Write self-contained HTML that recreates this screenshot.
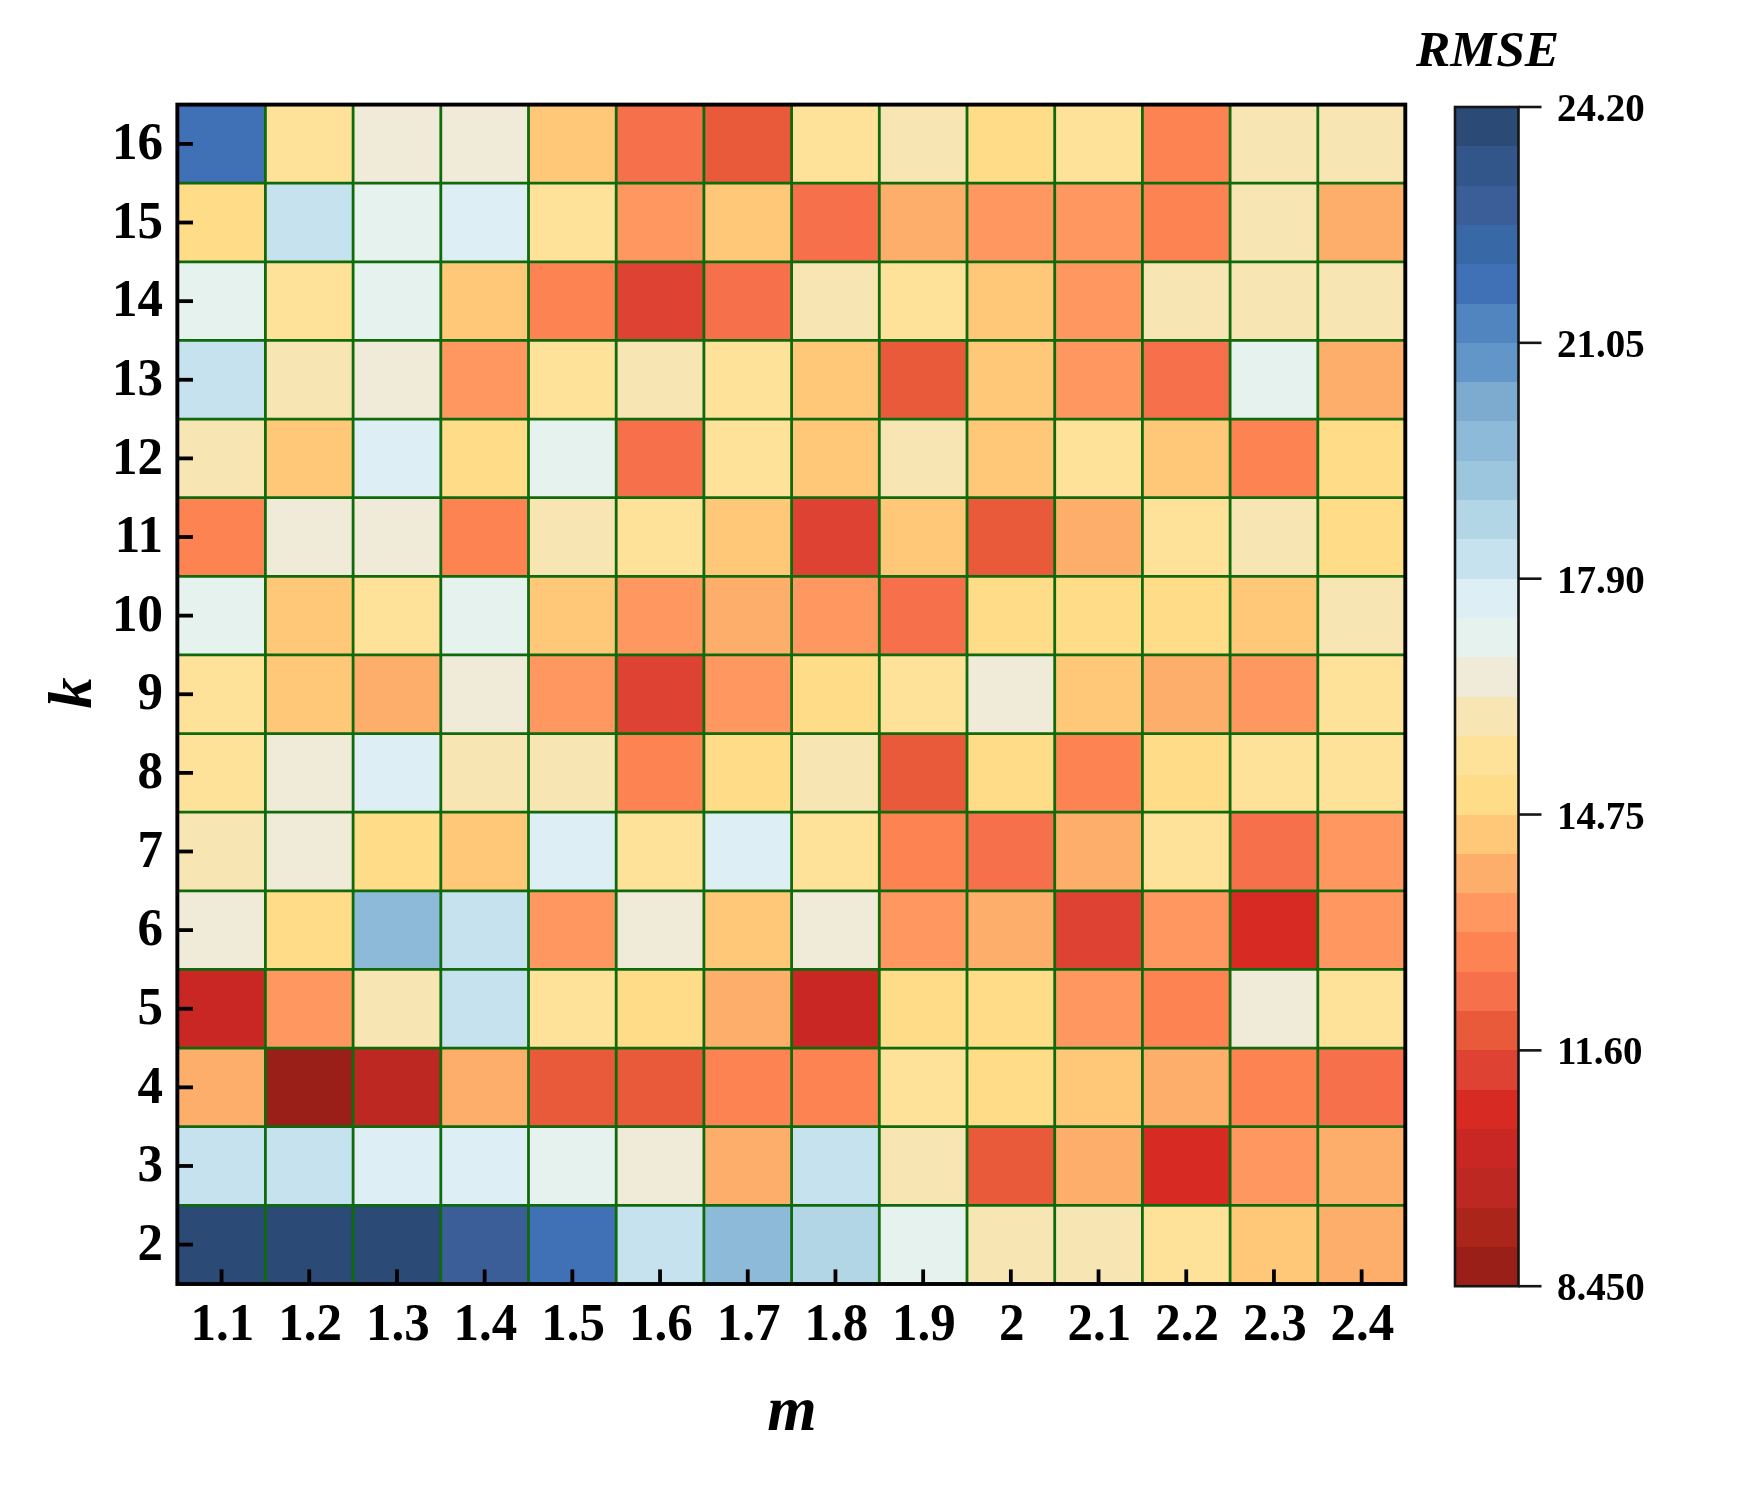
<!DOCTYPE html>
<html><head><meta charset="utf-8"><title>RMSE heatmap</title>
<style>html,body{margin:0;padding:0;background:#fff}body{width:1741px;height:1498px;overflow:hidden}</style></head>
<body>
<svg width="1741" height="1498" viewBox="0 0 1741 1498" style="display:block;filter:blur(0.45px)">
<rect width="1741" height="1498" fill="#fff"/>
<g shape-rendering="crispEdges">
<rect x="177.70" y="104.60" width="88.20" height="79.12" fill="#4070B5"/>
<rect x="265.40" y="104.60" width="88.20" height="79.12" fill="#FEE29A"/>
<rect x="353.10" y="104.60" width="88.20" height="79.12" fill="#F0EAD8"/>
<rect x="440.80" y="104.60" width="88.20" height="79.12" fill="#F0EAD8"/>
<rect x="528.50" y="104.60" width="88.20" height="79.12" fill="#FEC878"/>
<rect x="616.20" y="104.60" width="88.20" height="79.12" fill="#F5704B"/>
<rect x="703.90" y="104.60" width="88.20" height="79.12" fill="#E85A3A"/>
<rect x="791.60" y="104.60" width="88.20" height="79.12" fill="#FEE29A"/>
<rect x="879.30" y="104.60" width="88.20" height="79.12" fill="#F7E6B4"/>
<rect x="967.00" y="104.60" width="88.20" height="79.12" fill="#FEDC88"/>
<rect x="1054.70" y="104.60" width="88.20" height="79.12" fill="#FEE29A"/>
<rect x="1142.40" y="104.60" width="88.20" height="79.12" fill="#FD8352"/>
<rect x="1230.10" y="104.60" width="88.20" height="79.12" fill="#F7E6B4"/>
<rect x="1317.80" y="104.60" width="88.20" height="79.12" fill="#F7E6B4"/>
<rect x="177.70" y="183.22" width="88.20" height="79.12" fill="#FEDC88"/>
<rect x="265.40" y="183.22" width="88.20" height="79.12" fill="#C5E2EE"/>
<rect x="353.10" y="183.22" width="88.20" height="79.12" fill="#E6F2EE"/>
<rect x="440.80" y="183.22" width="88.20" height="79.12" fill="#DDEEF5"/>
<rect x="528.50" y="183.22" width="88.20" height="79.12" fill="#FEE29A"/>
<rect x="616.20" y="183.22" width="88.20" height="79.12" fill="#FE9860"/>
<rect x="703.90" y="183.22" width="88.20" height="79.12" fill="#FEC878"/>
<rect x="791.60" y="183.22" width="88.20" height="79.12" fill="#F5704B"/>
<rect x="879.30" y="183.22" width="88.20" height="79.12" fill="#FDAE6A"/>
<rect x="967.00" y="183.22" width="88.20" height="79.12" fill="#FE9860"/>
<rect x="1054.70" y="183.22" width="88.20" height="79.12" fill="#FE9860"/>
<rect x="1142.40" y="183.22" width="88.20" height="79.12" fill="#FD8352"/>
<rect x="1230.10" y="183.22" width="88.20" height="79.12" fill="#F7E6B4"/>
<rect x="1317.80" y="183.22" width="88.20" height="79.12" fill="#FDAE6A"/>
<rect x="177.70" y="261.84" width="88.20" height="79.12" fill="#E6F2EE"/>
<rect x="265.40" y="261.84" width="88.20" height="79.12" fill="#FEE29A"/>
<rect x="353.10" y="261.84" width="88.20" height="79.12" fill="#E6F2EE"/>
<rect x="440.80" y="261.84" width="88.20" height="79.12" fill="#FEC878"/>
<rect x="528.50" y="261.84" width="88.20" height="79.12" fill="#FD8352"/>
<rect x="616.20" y="261.84" width="88.20" height="79.12" fill="#DE4232"/>
<rect x="703.90" y="261.84" width="88.20" height="79.12" fill="#F5704B"/>
<rect x="791.60" y="261.84" width="88.20" height="79.12" fill="#F7E6B4"/>
<rect x="879.30" y="261.84" width="88.20" height="79.12" fill="#FEE29A"/>
<rect x="967.00" y="261.84" width="88.20" height="79.12" fill="#FEC878"/>
<rect x="1054.70" y="261.84" width="88.20" height="79.12" fill="#FE9860"/>
<rect x="1142.40" y="261.84" width="88.20" height="79.12" fill="#F7E6B4"/>
<rect x="1230.10" y="261.84" width="88.20" height="79.12" fill="#F7E6B4"/>
<rect x="1317.80" y="261.84" width="88.20" height="79.12" fill="#F7E6B4"/>
<rect x="177.70" y="340.46" width="88.20" height="79.12" fill="#C5E2EE"/>
<rect x="265.40" y="340.46" width="88.20" height="79.12" fill="#F7E6B4"/>
<rect x="353.10" y="340.46" width="88.20" height="79.12" fill="#F0EAD8"/>
<rect x="440.80" y="340.46" width="88.20" height="79.12" fill="#FE9860"/>
<rect x="528.50" y="340.46" width="88.20" height="79.12" fill="#FEE29A"/>
<rect x="616.20" y="340.46" width="88.20" height="79.12" fill="#F7E6B4"/>
<rect x="703.90" y="340.46" width="88.20" height="79.12" fill="#FEE29A"/>
<rect x="791.60" y="340.46" width="88.20" height="79.12" fill="#FEC878"/>
<rect x="879.30" y="340.46" width="88.20" height="79.12" fill="#E85A3A"/>
<rect x="967.00" y="340.46" width="88.20" height="79.12" fill="#FEC878"/>
<rect x="1054.70" y="340.46" width="88.20" height="79.12" fill="#FE9860"/>
<rect x="1142.40" y="340.46" width="88.20" height="79.12" fill="#F5704B"/>
<rect x="1230.10" y="340.46" width="88.20" height="79.12" fill="#E6F2EE"/>
<rect x="1317.80" y="340.46" width="88.20" height="79.12" fill="#FDAE6A"/>
<rect x="177.70" y="419.08" width="88.20" height="79.12" fill="#F7E6B4"/>
<rect x="265.40" y="419.08" width="88.20" height="79.12" fill="#FEC878"/>
<rect x="353.10" y="419.08" width="88.20" height="79.12" fill="#DDEEF5"/>
<rect x="440.80" y="419.08" width="88.20" height="79.12" fill="#FEDC88"/>
<rect x="528.50" y="419.08" width="88.20" height="79.12" fill="#E6F2EE"/>
<rect x="616.20" y="419.08" width="88.20" height="79.12" fill="#F5704B"/>
<rect x="703.90" y="419.08" width="88.20" height="79.12" fill="#FEE29A"/>
<rect x="791.60" y="419.08" width="88.20" height="79.12" fill="#FEC878"/>
<rect x="879.30" y="419.08" width="88.20" height="79.12" fill="#F7E6B4"/>
<rect x="967.00" y="419.08" width="88.20" height="79.12" fill="#FEC878"/>
<rect x="1054.70" y="419.08" width="88.20" height="79.12" fill="#FEE29A"/>
<rect x="1142.40" y="419.08" width="88.20" height="79.12" fill="#FEC878"/>
<rect x="1230.10" y="419.08" width="88.20" height="79.12" fill="#FD8352"/>
<rect x="1317.80" y="419.08" width="88.20" height="79.12" fill="#FEDC88"/>
<rect x="177.70" y="497.70" width="88.20" height="79.12" fill="#FD8352"/>
<rect x="265.40" y="497.70" width="88.20" height="79.12" fill="#F0EAD8"/>
<rect x="353.10" y="497.70" width="88.20" height="79.12" fill="#F0EAD8"/>
<rect x="440.80" y="497.70" width="88.20" height="79.12" fill="#FD8352"/>
<rect x="528.50" y="497.70" width="88.20" height="79.12" fill="#F7E6B4"/>
<rect x="616.20" y="497.70" width="88.20" height="79.12" fill="#FEE29A"/>
<rect x="703.90" y="497.70" width="88.20" height="79.12" fill="#FEC878"/>
<rect x="791.60" y="497.70" width="88.20" height="79.12" fill="#DE4232"/>
<rect x="879.30" y="497.70" width="88.20" height="79.12" fill="#FEC878"/>
<rect x="967.00" y="497.70" width="88.20" height="79.12" fill="#E85A3A"/>
<rect x="1054.70" y="497.70" width="88.20" height="79.12" fill="#FDAE6A"/>
<rect x="1142.40" y="497.70" width="88.20" height="79.12" fill="#FEE29A"/>
<rect x="1230.10" y="497.70" width="88.20" height="79.12" fill="#F7E6B4"/>
<rect x="1317.80" y="497.70" width="88.20" height="79.12" fill="#FEDC88"/>
<rect x="177.70" y="576.32" width="88.20" height="79.12" fill="#E6F2EE"/>
<rect x="265.40" y="576.32" width="88.20" height="79.12" fill="#FEC878"/>
<rect x="353.10" y="576.32" width="88.20" height="79.12" fill="#FEE29A"/>
<rect x="440.80" y="576.32" width="88.20" height="79.12" fill="#E6F2EE"/>
<rect x="528.50" y="576.32" width="88.20" height="79.12" fill="#FEC878"/>
<rect x="616.20" y="576.32" width="88.20" height="79.12" fill="#FE9860"/>
<rect x="703.90" y="576.32" width="88.20" height="79.12" fill="#FDAE6A"/>
<rect x="791.60" y="576.32" width="88.20" height="79.12" fill="#FE9860"/>
<rect x="879.30" y="576.32" width="88.20" height="79.12" fill="#F5704B"/>
<rect x="967.00" y="576.32" width="88.20" height="79.12" fill="#FEDC88"/>
<rect x="1054.70" y="576.32" width="88.20" height="79.12" fill="#FEDC88"/>
<rect x="1142.40" y="576.32" width="88.20" height="79.12" fill="#FEDC88"/>
<rect x="1230.10" y="576.32" width="88.20" height="79.12" fill="#FEC878"/>
<rect x="1317.80" y="576.32" width="88.20" height="79.12" fill="#F7E6B4"/>
<rect x="177.70" y="654.94" width="88.20" height="79.12" fill="#FEE29A"/>
<rect x="265.40" y="654.94" width="88.20" height="79.12" fill="#FEC878"/>
<rect x="353.10" y="654.94" width="88.20" height="79.12" fill="#FDAE6A"/>
<rect x="440.80" y="654.94" width="88.20" height="79.12" fill="#F0EAD8"/>
<rect x="528.50" y="654.94" width="88.20" height="79.12" fill="#FE9860"/>
<rect x="616.20" y="654.94" width="88.20" height="79.12" fill="#DE4232"/>
<rect x="703.90" y="654.94" width="88.20" height="79.12" fill="#FE9860"/>
<rect x="791.60" y="654.94" width="88.20" height="79.12" fill="#FEDC88"/>
<rect x="879.30" y="654.94" width="88.20" height="79.12" fill="#FEE29A"/>
<rect x="967.00" y="654.94" width="88.20" height="79.12" fill="#F0EAD8"/>
<rect x="1054.70" y="654.94" width="88.20" height="79.12" fill="#FEC878"/>
<rect x="1142.40" y="654.94" width="88.20" height="79.12" fill="#FDAE6A"/>
<rect x="1230.10" y="654.94" width="88.20" height="79.12" fill="#FE9860"/>
<rect x="1317.80" y="654.94" width="88.20" height="79.12" fill="#FEE29A"/>
<rect x="177.70" y="733.56" width="88.20" height="79.12" fill="#FEE29A"/>
<rect x="265.40" y="733.56" width="88.20" height="79.12" fill="#F0EAD8"/>
<rect x="353.10" y="733.56" width="88.20" height="79.12" fill="#DDEEF5"/>
<rect x="440.80" y="733.56" width="88.20" height="79.12" fill="#F7E6B4"/>
<rect x="528.50" y="733.56" width="88.20" height="79.12" fill="#F7E6B4"/>
<rect x="616.20" y="733.56" width="88.20" height="79.12" fill="#FD8352"/>
<rect x="703.90" y="733.56" width="88.20" height="79.12" fill="#FEDC88"/>
<rect x="791.60" y="733.56" width="88.20" height="79.12" fill="#F7E6B4"/>
<rect x="879.30" y="733.56" width="88.20" height="79.12" fill="#E85A3A"/>
<rect x="967.00" y="733.56" width="88.20" height="79.12" fill="#FEDC88"/>
<rect x="1054.70" y="733.56" width="88.20" height="79.12" fill="#FD8352"/>
<rect x="1142.40" y="733.56" width="88.20" height="79.12" fill="#FEDC88"/>
<rect x="1230.10" y="733.56" width="88.20" height="79.12" fill="#FEE29A"/>
<rect x="1317.80" y="733.56" width="88.20" height="79.12" fill="#FEE29A"/>
<rect x="177.70" y="812.18" width="88.20" height="79.12" fill="#F7E6B4"/>
<rect x="265.40" y="812.18" width="88.20" height="79.12" fill="#F0EAD8"/>
<rect x="353.10" y="812.18" width="88.20" height="79.12" fill="#FEDC88"/>
<rect x="440.80" y="812.18" width="88.20" height="79.12" fill="#FEC878"/>
<rect x="528.50" y="812.18" width="88.20" height="79.12" fill="#DDEEF5"/>
<rect x="616.20" y="812.18" width="88.20" height="79.12" fill="#FEE29A"/>
<rect x="703.90" y="812.18" width="88.20" height="79.12" fill="#DDEEF5"/>
<rect x="791.60" y="812.18" width="88.20" height="79.12" fill="#FEE29A"/>
<rect x="879.30" y="812.18" width="88.20" height="79.12" fill="#FD8352"/>
<rect x="967.00" y="812.18" width="88.20" height="79.12" fill="#F5704B"/>
<rect x="1054.70" y="812.18" width="88.20" height="79.12" fill="#FDAE6A"/>
<rect x="1142.40" y="812.18" width="88.20" height="79.12" fill="#FEE29A"/>
<rect x="1230.10" y="812.18" width="88.20" height="79.12" fill="#F5704B"/>
<rect x="1317.80" y="812.18" width="88.20" height="79.12" fill="#FE9860"/>
<rect x="177.70" y="890.80" width="88.20" height="79.12" fill="#F0EAD8"/>
<rect x="265.40" y="890.80" width="88.20" height="79.12" fill="#FEDC88"/>
<rect x="353.10" y="890.80" width="88.20" height="79.12" fill="#8DBAD8"/>
<rect x="440.80" y="890.80" width="88.20" height="79.12" fill="#C5E2EE"/>
<rect x="528.50" y="890.80" width="88.20" height="79.12" fill="#FE9860"/>
<rect x="616.20" y="890.80" width="88.20" height="79.12" fill="#F0EAD8"/>
<rect x="703.90" y="890.80" width="88.20" height="79.12" fill="#FEC878"/>
<rect x="791.60" y="890.80" width="88.20" height="79.12" fill="#F0EAD8"/>
<rect x="879.30" y="890.80" width="88.20" height="79.12" fill="#FE9860"/>
<rect x="967.00" y="890.80" width="88.20" height="79.12" fill="#FDAE6A"/>
<rect x="1054.70" y="890.80" width="88.20" height="79.12" fill="#DE4232"/>
<rect x="1142.40" y="890.80" width="88.20" height="79.12" fill="#FE9860"/>
<rect x="1230.10" y="890.80" width="88.20" height="79.12" fill="#D72A22"/>
<rect x="1317.80" y="890.80" width="88.20" height="79.12" fill="#FE9860"/>
<rect x="177.70" y="969.42" width="88.20" height="79.12" fill="#C82724"/>
<rect x="265.40" y="969.42" width="88.20" height="79.12" fill="#FE9860"/>
<rect x="353.10" y="969.42" width="88.20" height="79.12" fill="#F7E6B4"/>
<rect x="440.80" y="969.42" width="88.20" height="79.12" fill="#C5E2EE"/>
<rect x="528.50" y="969.42" width="88.20" height="79.12" fill="#FEE29A"/>
<rect x="616.20" y="969.42" width="88.20" height="79.12" fill="#FEDC88"/>
<rect x="703.90" y="969.42" width="88.20" height="79.12" fill="#FDAE6A"/>
<rect x="791.60" y="969.42" width="88.20" height="79.12" fill="#C82724"/>
<rect x="879.30" y="969.42" width="88.20" height="79.12" fill="#FEDC88"/>
<rect x="967.00" y="969.42" width="88.20" height="79.12" fill="#FEDC88"/>
<rect x="1054.70" y="969.42" width="88.20" height="79.12" fill="#FE9860"/>
<rect x="1142.40" y="969.42" width="88.20" height="79.12" fill="#FD8352"/>
<rect x="1230.10" y="969.42" width="88.20" height="79.12" fill="#F0EAD8"/>
<rect x="1317.80" y="969.42" width="88.20" height="79.12" fill="#FEE29A"/>
<rect x="177.70" y="1048.04" width="88.20" height="79.12" fill="#FDAE6A"/>
<rect x="265.40" y="1048.04" width="88.20" height="79.12" fill="#9A1F19"/>
<rect x="353.10" y="1048.04" width="88.20" height="79.12" fill="#BE2822"/>
<rect x="440.80" y="1048.04" width="88.20" height="79.12" fill="#FDAE6A"/>
<rect x="528.50" y="1048.04" width="88.20" height="79.12" fill="#E85A3A"/>
<rect x="616.20" y="1048.04" width="88.20" height="79.12" fill="#E85A3A"/>
<rect x="703.90" y="1048.04" width="88.20" height="79.12" fill="#FD8352"/>
<rect x="791.60" y="1048.04" width="88.20" height="79.12" fill="#FD8352"/>
<rect x="879.30" y="1048.04" width="88.20" height="79.12" fill="#FEE29A"/>
<rect x="967.00" y="1048.04" width="88.20" height="79.12" fill="#FEDC88"/>
<rect x="1054.70" y="1048.04" width="88.20" height="79.12" fill="#FEC878"/>
<rect x="1142.40" y="1048.04" width="88.20" height="79.12" fill="#FDAE6A"/>
<rect x="1230.10" y="1048.04" width="88.20" height="79.12" fill="#FD8352"/>
<rect x="1317.80" y="1048.04" width="88.20" height="79.12" fill="#F5704B"/>
<rect x="177.70" y="1126.66" width="88.20" height="79.12" fill="#C5E2EE"/>
<rect x="265.40" y="1126.66" width="88.20" height="79.12" fill="#C5E2EE"/>
<rect x="353.10" y="1126.66" width="88.20" height="79.12" fill="#DDEEF5"/>
<rect x="440.80" y="1126.66" width="88.20" height="79.12" fill="#DDEEF5"/>
<rect x="528.50" y="1126.66" width="88.20" height="79.12" fill="#E6F2EE"/>
<rect x="616.20" y="1126.66" width="88.20" height="79.12" fill="#F0EAD8"/>
<rect x="703.90" y="1126.66" width="88.20" height="79.12" fill="#FDAE6A"/>
<rect x="791.60" y="1126.66" width="88.20" height="79.12" fill="#C5E2EE"/>
<rect x="879.30" y="1126.66" width="88.20" height="79.12" fill="#F7E6B4"/>
<rect x="967.00" y="1126.66" width="88.20" height="79.12" fill="#E85A3A"/>
<rect x="1054.70" y="1126.66" width="88.20" height="79.12" fill="#FDAE6A"/>
<rect x="1142.40" y="1126.66" width="88.20" height="79.12" fill="#D72A22"/>
<rect x="1230.10" y="1126.66" width="88.20" height="79.12" fill="#FE9860"/>
<rect x="1317.80" y="1126.66" width="88.20" height="79.12" fill="#FDAE6A"/>
<rect x="177.70" y="1205.28" width="88.20" height="79.12" fill="#2B4A75"/>
<rect x="265.40" y="1205.28" width="88.20" height="79.12" fill="#2B4A75"/>
<rect x="353.10" y="1205.28" width="88.20" height="79.12" fill="#2B4A75"/>
<rect x="440.80" y="1205.28" width="88.20" height="79.12" fill="#3B5E99"/>
<rect x="528.50" y="1205.28" width="88.20" height="79.12" fill="#4070B5"/>
<rect x="616.20" y="1205.28" width="88.20" height="79.12" fill="#C5E2EE"/>
<rect x="703.90" y="1205.28" width="88.20" height="79.12" fill="#8DBAD8"/>
<rect x="791.60" y="1205.28" width="88.20" height="79.12" fill="#B3D6E6"/>
<rect x="879.30" y="1205.28" width="88.20" height="79.12" fill="#E6F2EE"/>
<rect x="967.00" y="1205.28" width="88.20" height="79.12" fill="#F7E6B4"/>
<rect x="1054.70" y="1205.28" width="88.20" height="79.12" fill="#F7E6B4"/>
<rect x="1142.40" y="1205.28" width="88.20" height="79.12" fill="#FEE29A"/>
<rect x="1230.10" y="1205.28" width="88.20" height="79.12" fill="#FEC878"/>
<rect x="1317.80" y="1205.28" width="88.20" height="79.12" fill="#FDAE6A"/>
</g>
<g stroke="#0e6a0b" stroke-width="2.8">
<line x1="265.40" y1="104.6" x2="265.40" y2="1283.9"/>
<line x1="353.10" y1="104.6" x2="353.10" y2="1283.9"/>
<line x1="440.80" y1="104.6" x2="440.80" y2="1283.9"/>
<line x1="528.50" y1="104.6" x2="528.50" y2="1283.9"/>
<line x1="616.20" y1="104.6" x2="616.20" y2="1283.9"/>
<line x1="703.90" y1="104.6" x2="703.90" y2="1283.9"/>
<line x1="791.60" y1="104.6" x2="791.60" y2="1283.9"/>
<line x1="879.30" y1="104.6" x2="879.30" y2="1283.9"/>
<line x1="967.00" y1="104.6" x2="967.00" y2="1283.9"/>
<line x1="1054.70" y1="104.6" x2="1054.70" y2="1283.9"/>
<line x1="1142.40" y1="104.6" x2="1142.40" y2="1283.9"/>
<line x1="1230.10" y1="104.6" x2="1230.10" y2="1283.9"/>
<line x1="1317.80" y1="104.6" x2="1317.80" y2="1283.9"/>
<line x1="177.7" y1="183.22" x2="1405.5" y2="183.22"/>
<line x1="177.7" y1="261.84" x2="1405.5" y2="261.84"/>
<line x1="177.7" y1="340.46" x2="1405.5" y2="340.46"/>
<line x1="177.7" y1="419.08" x2="1405.5" y2="419.08"/>
<line x1="177.7" y1="497.70" x2="1405.5" y2="497.70"/>
<line x1="177.7" y1="576.32" x2="1405.5" y2="576.32"/>
<line x1="177.7" y1="654.94" x2="1405.5" y2="654.94"/>
<line x1="177.7" y1="733.56" x2="1405.5" y2="733.56"/>
<line x1="177.7" y1="812.18" x2="1405.5" y2="812.18"/>
<line x1="177.7" y1="890.80" x2="1405.5" y2="890.80"/>
<line x1="177.7" y1="969.42" x2="1405.5" y2="969.42"/>
<line x1="177.7" y1="1048.04" x2="1405.5" y2="1048.04"/>
<line x1="177.7" y1="1126.66" x2="1405.5" y2="1126.66"/>
<line x1="177.7" y1="1205.28" x2="1405.5" y2="1205.28"/>
</g>
<g stroke="#000" stroke-width="3.8">
<line x1="221.55" y1="1283.9" x2="221.55" y2="1269.40"/>
<line x1="309.25" y1="1283.9" x2="309.25" y2="1269.40"/>
<line x1="396.95" y1="1283.9" x2="396.95" y2="1269.40"/>
<line x1="484.65" y1="1283.9" x2="484.65" y2="1269.40"/>
<line x1="572.35" y1="1283.9" x2="572.35" y2="1269.40"/>
<line x1="660.05" y1="1283.9" x2="660.05" y2="1269.40"/>
<line x1="747.75" y1="1283.9" x2="747.75" y2="1269.40"/>
<line x1="835.45" y1="1283.9" x2="835.45" y2="1269.40"/>
<line x1="923.15" y1="1283.9" x2="923.15" y2="1269.40"/>
<line x1="1010.85" y1="1283.9" x2="1010.85" y2="1269.40"/>
<line x1="1098.55" y1="1283.9" x2="1098.55" y2="1269.40"/>
<line x1="1186.25" y1="1283.9" x2="1186.25" y2="1269.40"/>
<line x1="1273.95" y1="1283.9" x2="1273.95" y2="1269.40"/>
<line x1="1361.65" y1="1283.9" x2="1361.65" y2="1269.40"/>
<line x1="177.7" y1="143.91" x2="193.00" y2="143.91"/>
<line x1="177.7" y1="222.53" x2="193.00" y2="222.53"/>
<line x1="177.7" y1="301.15" x2="193.00" y2="301.15"/>
<line x1="177.7" y1="379.77" x2="193.00" y2="379.77"/>
<line x1="177.7" y1="458.39" x2="193.00" y2="458.39"/>
<line x1="177.7" y1="537.01" x2="193.00" y2="537.01"/>
<line x1="177.7" y1="615.63" x2="193.00" y2="615.63"/>
<line x1="177.7" y1="694.25" x2="193.00" y2="694.25"/>
<line x1="177.7" y1="772.87" x2="193.00" y2="772.87"/>
<line x1="177.7" y1="851.49" x2="193.00" y2="851.49"/>
<line x1="177.7" y1="930.11" x2="193.00" y2="930.11"/>
<line x1="177.7" y1="1008.73" x2="193.00" y2="1008.73"/>
<line x1="177.7" y1="1087.35" x2="193.00" y2="1087.35"/>
<line x1="177.7" y1="1165.97" x2="193.00" y2="1165.97"/>
<line x1="177.7" y1="1244.59" x2="193.00" y2="1244.59"/>
</g>
<rect x="177.35" y="104.6" width="1227.95" height="1179.40" fill="none" stroke="#000" stroke-width="3.9"/>
<g font-family="'Liberation Serif', serif" font-weight="bold" font-size="51" fill="#000">
<text transform="translate(163,159.11) scale(1,1.045)" text-anchor="end">16</text>
<text transform="translate(163,237.73) scale(1,1.045)" text-anchor="end">15</text>
<text transform="translate(163,316.35) scale(1,1.045)" text-anchor="end">14</text>
<text transform="translate(163,394.97) scale(1,1.045)" text-anchor="end">13</text>
<text transform="translate(163,473.59) scale(1,1.045)" text-anchor="end">12</text>
<text transform="translate(163,552.21) scale(1,1.045)" text-anchor="end">11</text>
<text transform="translate(163,630.83) scale(1,1.045)" text-anchor="end">10</text>
<text transform="translate(163,709.45) scale(1,1.045)" text-anchor="end">9</text>
<text transform="translate(163,788.07) scale(1,1.045)" text-anchor="end">8</text>
<text transform="translate(163,866.69) scale(1,1.045)" text-anchor="end">7</text>
<text transform="translate(163,945.31) scale(1,1.045)" text-anchor="end">6</text>
<text transform="translate(163,1023.93) scale(1,1.045)" text-anchor="end">5</text>
<text transform="translate(163,1102.55) scale(1,1.045)" text-anchor="end">4</text>
<text transform="translate(163,1181.17) scale(1,1.045)" text-anchor="end">3</text>
<text transform="translate(163,1259.79) scale(1,1.045)" text-anchor="end">2</text>
<text transform="translate(222.35,1340) scale(1,1.045)" text-anchor="middle">1.1</text>
<text transform="translate(310.05,1340) scale(1,1.045)" text-anchor="middle">1.2</text>
<text transform="translate(397.75,1340) scale(1,1.045)" text-anchor="middle">1.3</text>
<text transform="translate(485.45,1340) scale(1,1.045)" text-anchor="middle">1.4</text>
<text transform="translate(573.15,1340) scale(1,1.045)" text-anchor="middle">1.5</text>
<text transform="translate(660.85,1340) scale(1,1.045)" text-anchor="middle">1.6</text>
<text transform="translate(748.55,1340) scale(1,1.045)" text-anchor="middle">1.7</text>
<text transform="translate(836.25,1340) scale(1,1.045)" text-anchor="middle">1.8</text>
<text transform="translate(923.95,1340) scale(1,1.045)" text-anchor="middle">1.9</text>
<text transform="translate(1011.65,1340) scale(1,1.045)" text-anchor="middle">2</text>
<text transform="translate(1099.35,1340) scale(1,1.045)" text-anchor="middle">2.1</text>
<text transform="translate(1187.05,1340) scale(1,1.045)" text-anchor="middle">2.2</text>
<text transform="translate(1274.75,1340) scale(1,1.045)" text-anchor="middle">2.3</text>
<text transform="translate(1362.45,1340) scale(1,1.045)" text-anchor="middle">2.4</text>
</g>
<g font-family="'Liberation Serif', serif" font-weight="bold" font-style="italic" fill="#000">
<text x="792" y="1430" font-size="63.5" text-anchor="middle">m</text>
<text transform="translate(91,693) rotate(-90)" font-size="62" text-anchor="middle">k</text>
<text x="1416" y="66" font-size="51.5">RMSE</text>
</g>
<g shape-rendering="crispEdges">
<rect x="1455.0" y="107.00" width="63.5" height="39.81" fill="#2B4A75"/>
<rect x="1455.0" y="146.31" width="63.5" height="39.81" fill="#32568A"/>
<rect x="1455.0" y="185.61" width="63.5" height="39.81" fill="#3B5E99"/>
<rect x="1455.0" y="224.92" width="63.5" height="39.81" fill="#3868A6"/>
<rect x="1455.0" y="264.23" width="63.5" height="39.81" fill="#4070B5"/>
<rect x="1455.0" y="303.53" width="63.5" height="39.81" fill="#5185BF"/>
<rect x="1455.0" y="342.84" width="63.5" height="39.81" fill="#6295C8"/>
<rect x="1455.0" y="382.15" width="63.5" height="39.81" fill="#7DABD0"/>
<rect x="1455.0" y="421.45" width="63.5" height="39.81" fill="#8DBAD8"/>
<rect x="1455.0" y="460.76" width="63.5" height="39.81" fill="#9CC6DE"/>
<rect x="1455.0" y="500.07" width="63.5" height="39.81" fill="#B3D6E6"/>
<rect x="1455.0" y="539.37" width="63.5" height="39.81" fill="#C5E2EE"/>
<rect x="1455.0" y="578.68" width="63.5" height="39.81" fill="#DDEEF5"/>
<rect x="1455.0" y="617.99" width="63.5" height="39.81" fill="#E6F2EE"/>
<rect x="1455.0" y="657.29" width="63.5" height="39.81" fill="#F0EAD8"/>
<rect x="1455.0" y="696.60" width="63.5" height="39.81" fill="#F7E6B4"/>
<rect x="1455.0" y="735.91" width="63.5" height="39.81" fill="#FEE29A"/>
<rect x="1455.0" y="775.21" width="63.5" height="39.81" fill="#FEDC88"/>
<rect x="1455.0" y="814.52" width="63.5" height="39.81" fill="#FEC878"/>
<rect x="1455.0" y="853.83" width="63.5" height="39.81" fill="#FDAE6A"/>
<rect x="1455.0" y="893.13" width="63.5" height="39.81" fill="#FE9860"/>
<rect x="1455.0" y="932.44" width="63.5" height="39.81" fill="#FD8352"/>
<rect x="1455.0" y="971.75" width="63.5" height="39.81" fill="#F5704B"/>
<rect x="1455.0" y="1011.05" width="63.5" height="39.81" fill="#E85A3A"/>
<rect x="1455.0" y="1050.36" width="63.5" height="39.81" fill="#DE4232"/>
<rect x="1455.0" y="1089.67" width="63.5" height="39.81" fill="#D72A22"/>
<rect x="1455.0" y="1128.97" width="63.5" height="39.81" fill="#C82724"/>
<rect x="1455.0" y="1168.28" width="63.5" height="39.81" fill="#BE2822"/>
<rect x="1455.0" y="1207.59" width="63.5" height="39.81" fill="#AB251A"/>
<rect x="1455.0" y="1246.89" width="63.5" height="39.81" fill="#9A1F19"/>
</g>
<rect x="1455.0" y="107.0" width="63.5" height="1179.20" fill="none" stroke="#151515" stroke-width="2.6"/>
<g stroke="#151515" stroke-width="2.6">
<line x1="1518.5" y1="107.00" x2="1541.5" y2="107.00"/>
<line x1="1518.5" y1="342.84" x2="1541.5" y2="342.84"/>
<line x1="1518.5" y1="578.68" x2="1541.5" y2="578.68"/>
<line x1="1518.5" y1="814.52" x2="1541.5" y2="814.52"/>
<line x1="1518.5" y1="1050.36" x2="1541.5" y2="1050.36"/>
<line x1="1518.5" y1="1286.20" x2="1541.5" y2="1286.20"/>
</g>
<g font-family="'Liberation Serif', serif" font-weight="bold" font-size="39" fill="#000">
<text transform="translate(1557,121.00) scale(1,1.045)">24.20</text>
<text transform="translate(1557,356.84) scale(1,1.045)">21.05</text>
<text transform="translate(1557,592.68) scale(1,1.045)">17.90</text>
<text transform="translate(1557,828.52) scale(1,1.045)">14.75</text>
<text transform="translate(1557,1064.36) scale(1,1.045)">11.60</text>
<text transform="translate(1557,1300.20) scale(1,1.045)">8.450</text>
</g>
</svg>
</body></html>
